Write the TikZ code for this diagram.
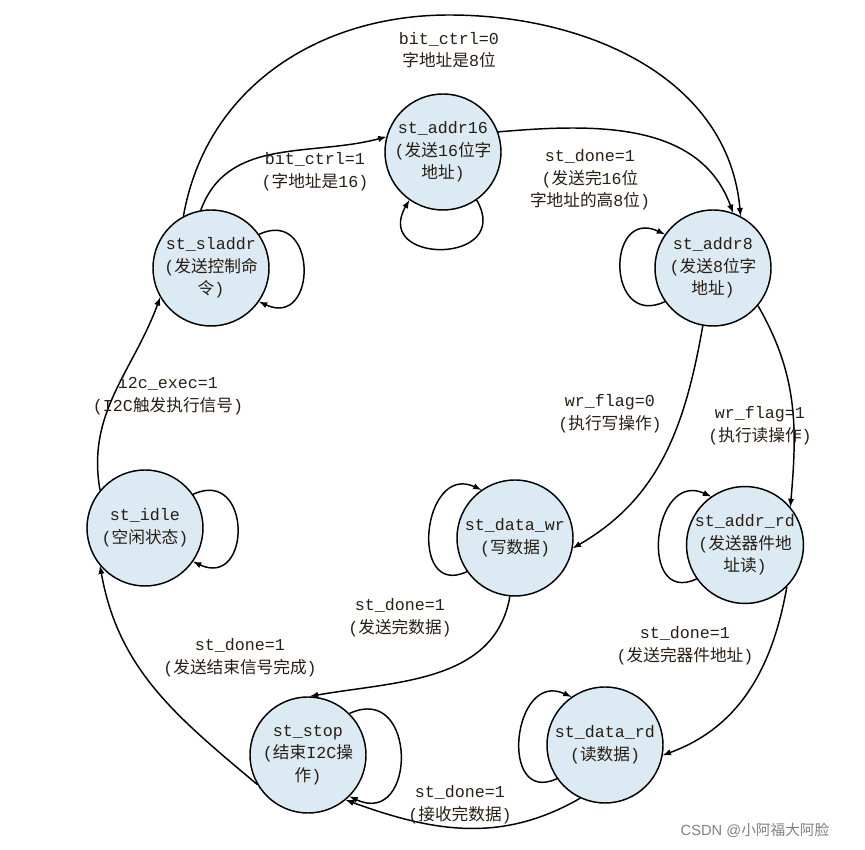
\documentclass[tikz,border=0pt]{standalone}
\usepackage{fontspec}
\setmainfont{Liberation Mono}
\newfontfamily\cjk{Noto Sans CJK SC}
\newfontfamily\wm{Liberation Sans}
\newcommand{\zh}[1]{{\cjk #1}}
\begin{document}
\begin{tikzpicture}[x=0.75pt,y=0.75pt,
  st/.style={circle,draw=black,line width=1.1pt,fill={rgb,255:red,219;green,234;blue,243},minimum size=87pt,inner sep=0pt,align=center,font=\fontsize{12.5}{17}\selectfont,text={rgb,255:red,40;green,30;blue,20}},
  lbl/.style={align=center,font=\fontsize{12.5}{17}\selectfont,text={rgb,255:red,40;green,30;blue,20}},
  tr/.style={draw=black,line width=1.1pt,-latex}]
\useasboundingbox (0,0) rectangle (865,850);
\node[st] (a16) at (443,698) {st\_addr16\\(\zh{发送}16\zh{位字}\\\zh{地址})};
\node[st] (sl) at (211,582) {st\_sladdr\\(\zh{发送控制命}\\\zh{令})};
\node[st] (a8) at (713,582) {st\_addr8\\(\zh{发送}8\zh{位字}\\\zh{地址})};
\node[st] (idle) at (145,322) {st\_idle\\(\zh{空闲状态})};
\node[st] (dw) at (515,312) {st\_data\_wr\\(\zh{写数据})};
\node[st] (ard) at (745,305) {st\_addr\_rd\\(\zh{发送器件地}\\\zh{址读})};
\node[st] (stop) at (308,95) {st\_stop\\(\zh{结束}I2C\zh{操}\\\zh{作})};
\node[st] (drd) at (605,105) {st\_data\_rd\\(\zh{读数据})};
\coordinate (topc) at (449,835);
% transitions
\draw[tr] (sl.118) to[out=80,in=180] (topc) to[out=0,in=95] (a8.62);
\draw[tr] (sl.100) to[out=70,in=195] (a16.165);
\draw[tr] (a16.20) to[out=5,in=110] (a8.70);
\draw[tr] (a8.-100) to[out=-100,in=30] (dw.-10);
\draw[tr] (a8.-40) to[out=-60,in=85] (ard.40);
\draw[tr] (ard.-45) to[out=-100,in=20] (drd.-10);
\draw[tr] (drd.-115) to[out=-150,in=-20] (stop.-50);
\draw[tr] (dw.-95) to[out=-100,in=10] (stop.88);
\draw[tr] (stop.-150) to[out=140,in=-80] (idle.-140);
\draw[tr] (idle.140) to[out=100,in=-110] (sl.-150);
% self loops
\draw[tr] (sl.35) .. controls +(25:65) and +(-25:65) .. (sl.-35);
\draw[tr] (a16.-55) .. controls +(-60:75) and +(-120:75) .. (a16.-125);
\draw[tr] (a8.-145) .. controls +(-155:65) and +(155:65) .. (a8.145);
\draw[tr] (idle.35) .. controls +(25:65) and +(-25:65) .. (idle.-35);
\draw[tr] (dw.-145) .. controls +(-155:65) and +(155:65) .. (dw.125);
\draw[tr] (ard.-145) .. controls +(-155:65) and +(155:65) .. (ard.125);
\draw[tr] (drd.-145) .. controls +(-155:65) and +(155:65) .. (drd.125);
\draw[tr] (stop.45) .. controls +(25:75) and +(-25:75) .. (stop.-45);
% labels
\node[lbl] (l1) at (449,800) {bit\_ctrl=0\\\zh{字地址是}8\zh{位}};
\node[lbl] (l2) at (315,678) {bit\_ctrl=1\\(\zh{字地址是}16)};
\node[lbl] (l3) at (590,670) {st\_done=1\\(\zh{发送完}16\zh{位}\\\zh{字地址的高}8\zh{位})};
\node[lbl] (l4) at (610,436) {wr\_flag=0\\(\zh{执行写操作})};
\node[lbl] (l5) at (760,424) {wr\_flag=1\\(\zh{执行读操作})};
\node[lbl] (l6) at (168,454) {i2c\_exec=1\\(I2C\zh{触发执行信号})};
\node[lbl] (l7) at (400,232) {st\_done=1\\(\zh{发送完数据})};
\node[lbl] (l8) at (240,192) {st\_done=1\\(\zh{发送结束信号完成})};
\node[lbl] (l9) at (685,204) {st\_done=1\\(\zh{发送完器件地址})};
\node[lbl] (l10) at (460,45) {st\_done=1\\(\zh{接收完数据})};
\node[font=\fontsize{11}{13}\selectfont,text=gray] (wm) at (755,20) {{\wm CSDN @}\zh{小阿福大阿脸}};
\end{tikzpicture}
\end{document}
